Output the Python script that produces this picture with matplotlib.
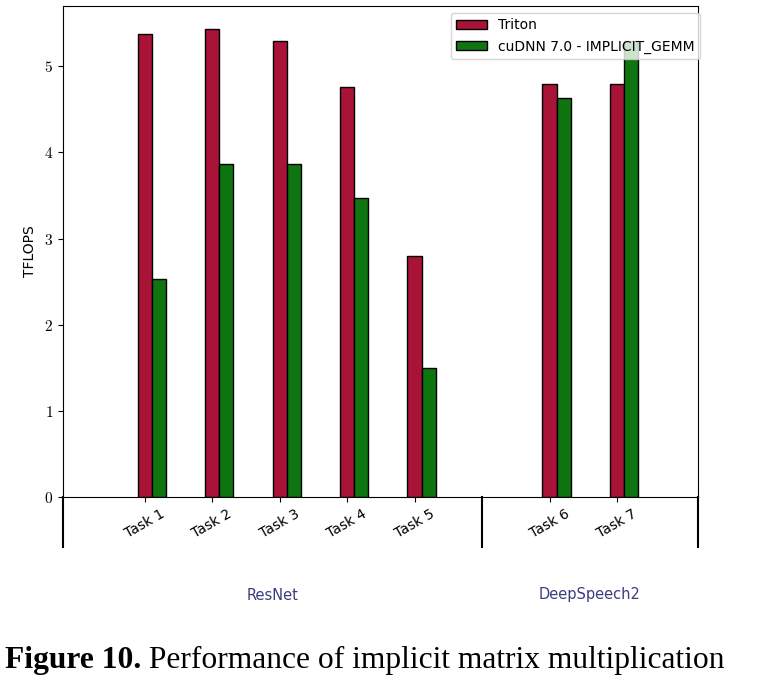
import matplotlib
matplotlib.use("Agg")
import matplotlib.pyplot as plt
from matplotlib.lines import Line2D
import matplotlib.transforms as mtransforms
import numpy as np

plt.rcParams['mathtext.fontset'] = 'cm'
plt.rcParams['font.family'] = ['DejaVu Sans']

tasks = ["Task 1", "Task 2", "Task 3", "Task 4", "Task 5", "Task 6", "Task 7"]
positions = [0, 1, 2, 3, 4, 6, 7]
triton = [5.37, 5.43, 5.29, 4.76, 2.80, 4.79, 4.79]
cudnn = [2.53, 3.86, 3.87, 3.47, 1.50, 4.63, 5.29]
series_names = ["Triton", "cuDNN 7.0 - IMPLICIT_GEMM"]
groups = ["ResNet", "DeepSpeech2"]
group_bounds = [(-1.21, 5), (5, 8.2)]
yticks = [0, 1, 2, 3, 4, 5]

red = "#A81337"
green = "#0E7511"
group_color = "#3B3B7E"

fig = plt.figure(figsize=(7.62, 6.8), dpi=100)
ax = fig.add_axes([63 / 762, 1 - 497 / 680, (698 - 63) / 762, (497 - 6) / 680])

w = 0.21
x = np.array(positions, dtype=float)
ax.bar(x, triton, width=w, color=red, edgecolor="black", linewidth=1, label=series_names[0])
ax.bar(x + w, cudnn, width=w, color=green, edgecolor="black", linewidth=1, label=series_names[1])

ax.set_xlim(group_bounds[0][0], group_bounds[1][1])
ax.set_ylim(0, 5.7)
ax.set_yticks(yticks)
ax.set_yticklabels([r"$%d$" % v for v in yticks], fontsize=11)
ax.set_xticks(x)
ax.set_xticklabels(tasks, rotation=30, ha="center", fontsize=10)
ax.set_ylabel("TFLOPS", fontsize=10, labelpad=5)

leg = ax.legend(loc="upper right", fontsize=10, bbox_to_anchor=(1.003, 0.986), borderaxespad=0,
                handlelength=2.2)

# group separators below the axis
trans = mtransforms.blended_transform_factory(ax.transData, ax.transAxes)
yb = -(547 - 497) / (497 - 6)
for xs, tr in [(0, ax.transAxes), (1, ax.transAxes), (5, trans)]:
    ax.add_line(Line2D([xs, xs], [0, yb], transform=tr, color="black", linewidth=1.5, clip_on=False))

for g, (a, b) in zip(groups, group_bounds):
    ax.text((a + b) / 2, -(595 - 497) / (497 - 6), g, transform=trans, ha="center", va="center",
            fontsize=10.5, color=group_color)

t1 = fig.text(5 / 762, 1 - 668 / 680, "Figure 10.", fontsize=22.7, fontweight="bold",
              family="Liberation Serif", va="baseline", ha="left")
fig.canvas.draw()
ax.annotate(" Performance of implicit matrix multiplication", xy=(1, 0), xycoords=t1,
            va="bottom", ha="left", fontsize=22.7, family="Liberation Serif",
            annotation_clip=False)

fig.savefig("out.png", dpi=100)
